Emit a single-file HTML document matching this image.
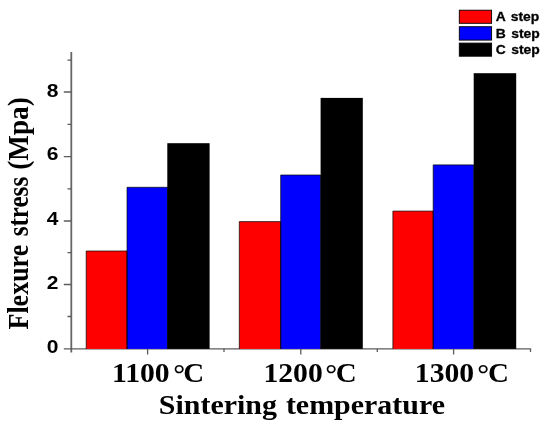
<!DOCTYPE html>
<html>
<head>
<meta charset="utf-8">
<title>Flexure stress vs sintering temperature</title>
<style>
html,body{margin:0;padding:0;background:#fff;}
svg{display:block;filter:blur(0.45px);}
.serif{font-family:"Liberation Serif",serif;font-weight:bold;fill:#000;}
.sans{font-family:"Liberation Sans",sans-serif;font-weight:bold;fill:#000;}
</style>
</head>
<body>
<svg width="550" height="428" viewBox="0 0 550 428">
<rect x="0" y="0" width="550" height="428" fill="#fff"/>

<!-- axes -->
<g stroke="#666" stroke-width="1.8" fill="none">
<path d="M71.3 52 V352.4"/>
</g>
<g stroke="#5c5c5c" stroke-width="1.3" fill="none">
<path d="M63.8 348.8 H530.5 V352"/>
<path d="M63.8 284.5H71.3 M63.8 221H71.3 M63.8 156.6H71.3 M63.8 92H71.3"/>
<path d="M67.5 316.5H71.3 M67.5 252.7H71.3 M67.5 188.8H71.3 M67.5 124.3H71.3 M67.5 60.2H71.3"/>
<path d="M147.6 348.8V354.6 M300.8 348.8V354.6 M453.6 348.8V354.6"/>
<path d="M224 348.8V352 M377.3 348.8V352"/>
</g>

<!-- bars -->
<g>
<rect x="86.2" y="251.0" width="40.8" height="97.9" fill="#ff0000"/>
<rect x="127.0" y="187.3" width="40.5" height="161.6" fill="#0000ff"/>
<rect x="167.3" y="143.2" width="42.3" height="205.7" fill="#000"/>
<rect x="239.3" y="221.6" width="41.4" height="127.3" fill="#ff0000"/>
<rect x="280.7" y="175.0" width="40.0" height="173.9" fill="#0000ff"/>
<rect x="320.6" y="97.9" width="42.2" height="251.0" fill="#000"/>
<rect x="392.9" y="211.1" width="40.3" height="137.8" fill="#ff0000"/>
<rect x="433.2" y="164.9" width="40.6" height="184.0" fill="#0000ff"/>
<rect x="473.7" y="73.2" width="42.5" height="275.7" fill="#000"/>
</g>
<g stroke="#000" stroke-width="0.7" fill="none">
<path d="M86.2 348.9V251.0H127.0V348.9"/>
<path d="M127.0 348.9V187.3H167.5V348.9"/>
<path d="M239.3 348.9V221.6H280.7V348.9"/>
<path d="M280.7 348.9V175.0H320.7V348.9"/>
<path d="M392.9 348.9V211.1H433.2V348.9"/>
<path d="M433.2 348.9V164.9H473.8V348.9"/>
</g>

<!-- y tick labels -->
<g class="sans" font-size="18.8" text-anchor="middle">
<text transform="translate(52.7 352.6) scale(1.12 1)">0</text>
<text transform="translate(52.7 289) scale(1.12 1)">2</text>
<text transform="translate(52.5 224.9) scale(1.12 1)">4</text>
<text transform="translate(52.7 160.2) scale(1.12 1)">6</text>
<text transform="translate(52.7 96.9) scale(1.12 1)">8</text>
</g>

<!-- x tick labels -->
<g class="serif" font-size="28">
<text transform="translate(112.0 382.2) scale(1.06 1)">1100</text><text transform="translate(173.3 383) scale(1.06 1)">°</text><text transform="translate(183.3 382.2) scale(1.035 1)">C</text>
<text transform="translate(263.4 382.2) scale(1.06 1)">1200</text><text transform="translate(325.3 383) scale(1.06 1)">°</text><text transform="translate(335.7 382.2) scale(1.035 1)">C</text>
<text transform="translate(414.8 382.2) scale(1.06 1)">1300</text><text transform="translate(477.3 383) scale(1.06 1)">°</text><text transform="translate(488.0 382.2) scale(1.035 1)">C</text>
</g>

<!-- axis titles -->
<g class="serif" font-size="28">
<text transform="translate(158.8 414) scale(1.07 1)">Sintering</text>
<text transform="translate(285.9 414) scale(1.07 1)">temperature</text>
</g>
<g class="serif" font-size="26">
<text transform="translate(27.6 329.5) rotate(-90) scale(1 1.1)">Flexure</text>
<text transform="translate(27.6 236.3) rotate(-90) scale(0.965 1.1)">stress</text>
<text transform="translate(27.6 169.7) rotate(-90) scale(1.045 1.1)">(Mpa)</text>
</g>

<!-- legend -->
<g stroke="#000" stroke-width="0.9">
<rect x="459.3" y="10.2" width="32.3" height="13.1" fill="#ff0000"/>
<rect x="459.3" y="26.7" width="32.3" height="13.4" fill="#0000ff"/>
<rect x="459.3" y="43.1" width="32.3" height="13.1" fill="#000"/>
</g>
<g class="sans" font-size="13.3" word-spacing="1.6" stroke="#000" stroke-width="0.3">
<text transform="translate(495.7 21.3) scale(1.045 1)">A step</text>
<text transform="translate(495.7 38.2) scale(1.045 1)">B step</text>
<text transform="translate(495.7 54.4) scale(1.045 1)">C step</text>
</g>
</svg>
</body>
</html>
